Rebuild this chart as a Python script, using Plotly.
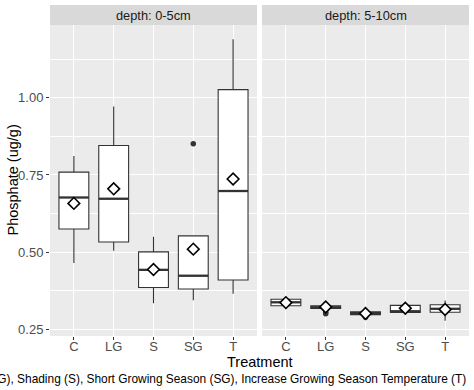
import plotly.graph_objects as go

categories = ["C", "LG", "S", "SG", "T"]
depths = ["depth: 0-5cm", "depth: 5-10cm"]

# depth 0-5cm
top_lower = [0.465, 0.505, 0.335, 0.345, 0.366]
top_q1 = [0.575, 0.533, 0.386, 0.381, 0.410]
top_median = [0.677, 0.673, 0.443, 0.424, 0.698]
top_q3 = [0.759, 0.845, 0.501, 0.553, 1.026]
top_upper = [0.811, 0.971, 0.550, 0.553, 1.189]
top_mean = [0.658, 0.705, 0.444, 0.510, 0.737]
top_outlier_cat = ["SG"]
top_outlier_val = [0.851]

# depth 5-10cm
bot_lower = [0.316, 0.310, 0.294, 0.302, 0.278]
bot_q1 = [0.327, 0.318, 0.298, 0.305, 0.306]
bot_median = [0.338, 0.322, 0.303, 0.309, 0.317]
bot_q3 = [0.348, 0.327, 0.307, 0.328, 0.330]
bot_upper = [0.354, 0.330, 0.310, 0.334, 0.344]
bot_mean = [0.337, 0.323, 0.302, 0.319, 0.315]
bot_outlier_cat = ["LG", "LG", "S"]
bot_outlier_val = [0.301, 0.306, 0.290]

y_ticks = [0.25, 0.50, 0.75, 1.00]
y_tick_text = ["0.25", "0.50", "0.75", "1.00"]
y_minor = [0.375, 0.625, 0.875, 1.125]

caption = ("Control (C), Long Growing Season (LG), Shading (S), Short Growing Season (SG), "
           "Increase Growing Season Temperature (T)")

BOXW = 0.75
fig = go.Figure()

panels = [
    (top_lower, top_q1, top_median, top_q3, top_upper, top_mean, top_outlier_cat, top_outlier_val),
    (bot_lower, bot_q1, bot_median, bot_q3, bot_upper, bot_mean, bot_outlier_cat, bot_outlier_val),
]
for p, (lo, q1, med, q3, up, mn, ocat, oval) in enumerate(panels):
    xa = "x" if p == 0 else "x2"
    ya = "y" if p == 0 else "y2"
    pos = list(range(len(categories)))
    for i in pos:
        fig.add_trace(go.Box(
            x=[i], q1=[q1[i]], median=[med[i]], q3=[q3[i]],
            lowerfence=[lo[i]], upperfence=[up[i]],
            width=BOXW, whiskerwidth=0, boxpoints=False,
            fillcolor="white", line=dict(color="#333333", width=1.1),
            xaxis=xa, yaxis=ya, showlegend=False, hoverinfo="skip"))
        # thick median line
        fig.add_trace(go.Scatter(
            x=[i - BOXW / 2, i + BOXW / 2], y=[med[i], med[i]], mode="lines",
            line=dict(color="#333333", width=2.3), xaxis=xa, yaxis=ya,
            showlegend=False, hoverinfo="skip"))
    # outliers
    fig.add_trace(go.Scatter(
        x=[categories.index(c) for c in ocat], y=oval, mode="markers",
        marker=dict(color="#333333", size=5.5), xaxis=xa, yaxis=ya,
        showlegend=False, hoverinfo="skip"))
    # means
    fig.add_trace(go.Scatter(
        x=pos, y=mn, mode="markers",
        marker=dict(symbol="diamond", size=9, color="white",
                    line=dict(color="black", width=1.6)),
        xaxis=xa, yaxis=ya, showlegend=False, hoverinfo="skip"))

PANEL_BG = "#EBEBEB"
xcommon = dict(range=[-0.6, 4.6], tickmode="array", tickvals=list(range(5)),
               ticktext=categories, showgrid=True, gridcolor="white", gridwidth=1.1,
               zeroline=False, ticks="outside", ticklen=3, tickcolor="#333333",
               ticklabelstandoff=-5,
               tickfont=dict(family="Liberation Sans, Arial", size=13, color="#4D4D4D"),
               showline=False)
ycommon = dict(range=[0.229, 1.235], tickmode="array", tickvals=y_ticks,
               showgrid=True, gridcolor="white", gridwidth=1.1, zeroline=False,
               minor=dict(tickvals=y_minor, showgrid=True, gridcolor="white",
                          gridwidth=0.5, ticks=""),
               showline=False)

fig.update_layout(
    width=474, height=390,
    margin=dict(l=50, r=5, t=25, b=54),
    paper_bgcolor="white", plot_bgcolor=PANEL_BG,
    xaxis=dict(domain=[0, 0.494], anchor="y", **xcommon),
    xaxis2=dict(domain=[0.506, 1], anchor="y2", **xcommon),
    yaxis=dict(domain=[0, 1], anchor="x", ticktext=y_tick_text, ticks="outside",
               ticklen=3, tickcolor="#333333",
               tickfont=dict(family="Liberation Sans, Arial", size=13, color="#4D4D4D"),
               **ycommon),
    yaxis2=dict(domain=[0, 1], anchor="x2", matches="y", showticklabels=False,
                ticks="", **ycommon),
    font=dict(family="Liberation Sans, Arial"),
)

# strips
strip_h = 20 / 311
for dom, label in [((0, 0.494), depths[0]), ((0.506, 1), depths[1])]:
    fig.add_shape(type="rect", xref="paper", yref="paper",
                  x0=dom[0], x1=dom[1], y0=1, y1=1 + strip_h,
                  fillcolor="#D9D9D9", line=dict(width=0), layer="below")
    fig.add_annotation(xref="paper", yref="paper", x=(dom[0] + dom[1]) / 2,
                       y=1 + strip_h / 2, text=label, showarrow=False,
                       xanchor="center", yanchor="middle",
                       font=dict(size=12.8, color="#1A1A1A"))

# axis titles
fig.add_annotation(xref="paper", yref="paper", x=0.5, y=0, yshift=-26,
                   text="Treatment", showarrow=False, xanchor="center", yanchor="middle",
                   font=dict(size=14.5, color="black"))
fig.add_annotation(xref="paper", yref="paper", x=0, xshift=-38, y=0.5,
                   text="Phosphate (ug/g)", textangle=-90, showarrow=False,
                   xanchor="center", yanchor="middle", font=dict(size=14.5, color="black"))
# caption (cut at the left edge as in the original)
fig.add_annotation(xref="paper", yref="paper", x=(468 - 50) / 419, y=0, yshift=-43,
                   xanchor="right", yanchor="middle", text=caption, showarrow=False,
                   font=dict(size=11.9, color="black"))

fig.write_html("out.html", config={"displayModeBar": False},
               post_script="document.body.style.margin='0px';document.body.style.overflow='hidden';")
